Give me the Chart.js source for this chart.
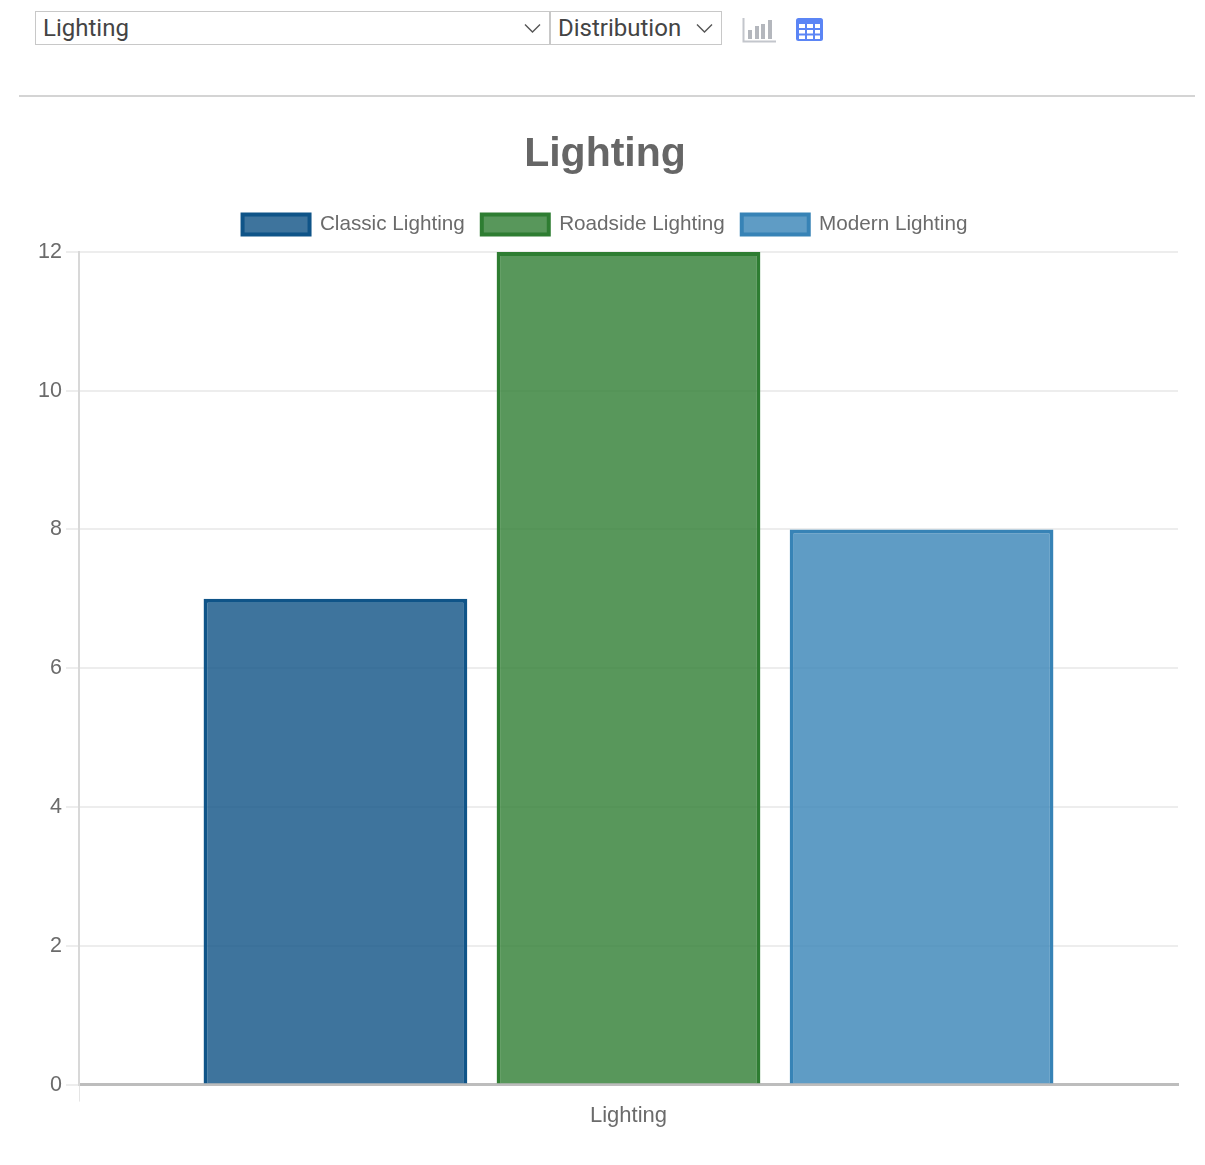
<!DOCTYPE html>
<html>
<head>
<meta charset="utf-8">
<title>Lighting</title>
<script src="https://cdn.jsdelivr.net/npm/chart.js@4"></script>
<style>
  html, body { margin: 0; background: #fff; }
  body { position: relative; width: 1205px; height: 1165px; overflow: hidden; font-family: Roboto, sans-serif; }
  .picker { position: absolute; top: 11px; height: 32px; border: 1px solid #c8c8c8; font-size: 24px; line-height: 33px; color: #444; box-sizing: content-box; }
  .picker span { position: absolute; left: 7px; }
  .picker svg { position: absolute; top: 11px; }
  #rule { position: absolute; left: 19px; top: 95px; width: 1176px; height: 2px; background: #d4d4d4; }
  #lightingChart { position: absolute; left: 20px; top: 110px; }
</style>
</head>
<body>
<div class="picker" style="left:35px;width:514px"><span>Lighting</span>
  <svg style="left:488px" width="17" height="11"><path d="M1 1.5 L8.5 9 L16 1.5" fill="none" stroke="#555" stroke-width="1.4"/></svg>
</div>
<div class="picker" style="left:549px;width:171px"><span style="left:8px">Distribution</span>
  <svg style="left:146px" width="17" height="11"><path d="M1 1.5 L8.5 9 L16 1.5" fill="none" stroke="#555" stroke-width="1.4"/></svg>
</div>
<svg style="position:absolute;left:742px;top:18px" width="34" height="26">
  <path d="M1.5 0 V23.5 H34" fill="none" stroke="#c3c6cc" stroke-width="2"/>
  <rect x="6" y="12" width="4" height="9" fill="#b4b7bd"/>
  <rect x="13" y="8" width="4" height="13" fill="#b4b7bd"/>
  <rect x="19" y="6" width="4" height="15" fill="#b4b7bd"/>
  <rect x="26" y="2" width="4" height="19" fill="#b4b7bd"/>
</svg>
<svg style="position:absolute;left:796px;top:18px" width="28" height="24">
  <rect width="27" height="23" rx="2.5" fill="#5b85f5"/>
  <g fill="#fff">
    <rect x="3" y="6" width="6" height="4"/><rect x="11" y="6" width="6" height="4"/><rect x="19" y="6" width="5" height="4"/>
    <rect x="3" y="12" width="6" height="3.5"/><rect x="11" y="12" width="6" height="3.5"/><rect x="19" y="12" width="5" height="3.5"/>
    <rect x="3" y="17.5" width="6" height="3.5"/><rect x="11" y="17.5" width="6" height="3.5"/><rect x="19" y="17.5" width="5" height="3.5"/>
  </g>
</svg>
<div id="rule"></div>
<canvas id="lightingChart" width="1170" height="1040"></canvas>
<script>
var categories = ["Lighting"];
var seriesNames = ["Classic Lighting", "Roadside Lighting", "Modern Lighting"];
var seriesValues = [[7], [12], [8]];
var fillColors = ["rgba(14,81,133,0.8)", "rgba(46,125,50,0.8)", "rgba(55,131,182,0.8)"];
var lineColors = ["#0f5488", "#2e7d32", "#3783b6"];

var datasets = [];
for (var i = 0; i < seriesNames.length; i++) {
  datasets.push({
    label: seriesNames[i],
    data: seriesValues[i],
    backgroundColor: fillColors[i],
    borderColor: lineColors[i],
    borderWidth: 4
  });
}

// extra room under the legend row
var legendGap = {
  id: "legendGap",
  beforeInit: function (chart) {
    var fit = chart.legend.fit;
    chart.legend.fit = function () {
      fit.call(this);
      this.height += 7;
    };
  }
};

new Chart(document.getElementById("lightingChart"), {
  type: "bar",
  data: { labels: categories, datasets: datasets },
  plugins: [legendGap],
  options: {
    responsive: false,
    animation: false,
    layout: { padding: { left: 12, right: 12, bottom: 20 } },
    plugins: {
      title: {
        display: true,
        text: "Lighting",
        color: "#666",
        font: { family: "Liberation Sans", size: 41, weight: "bold" },
        padding: { top: 20, bottom: 18 }
      },
      legend: {
        labels: {
          boxWidth: 67,
          boxHeight: 20,
          padding: 17,
          color: "#6b6b6b",
          font: { family: "Liberation Sans", size: 20.7 }
        }
      }
    },
    scales: {
      x: {
        grid: {
          drawOnChartArea: false,
          tickLength: 17,
          // only the left edge gets a tick, the closing one stays hidden
          tickColor: function (ctx) { return ctx.tick ? "rgba(0,0,0,0.1)" : "rgba(0,0,0,0)"; }
        },
        border: { color: "#bdbdbd", width: 3 },
        ticks: { padding: 1, color: "#6b6b6b", font: { family: "Liberation Sans", size: 22 } }
      },
      y: {
        min: 0,
        max: 12,
        // fixed gutter so the title stays centred where it should
        afterFit: function (scale) { scale.width = 47; },
        grid: { color: "rgba(0,0,0,0.07)", lineWidth: 2, tickLength: 13 },
        border: { color: "#d8d8d8", width: 2 },
        ticks: { stepSize: 2, padding: 4, color: "#6b6b6b", font: { family: "Liberation Sans", size: 21.5 } }
      }
    }
  }
});
</script>
</body>
</html>
